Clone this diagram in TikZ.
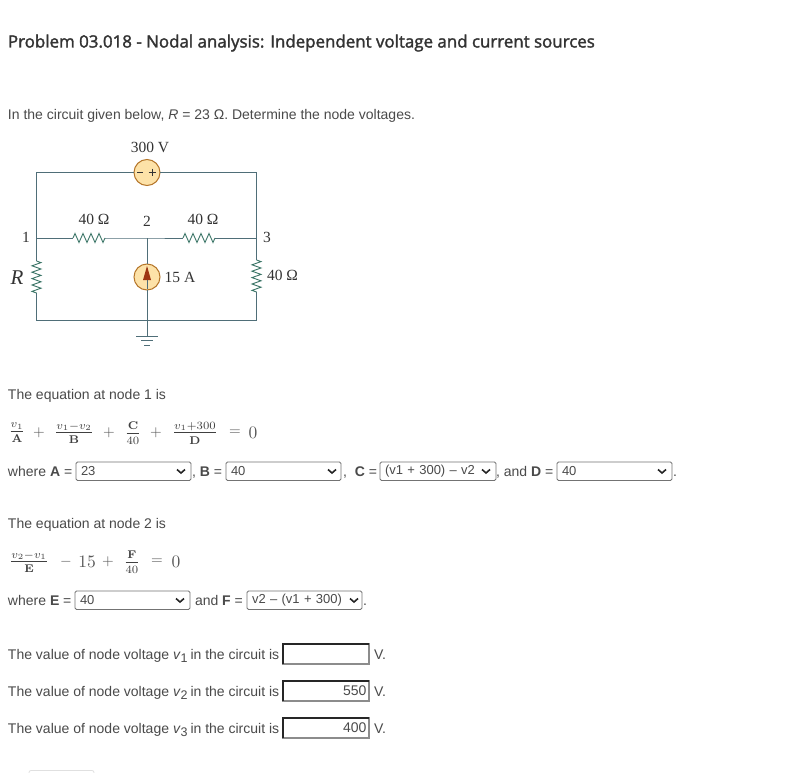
\documentclass[tikz,border=0pt]{standalone}
\usepackage[no-math]{fontspec}
\setmainfont{Liberation Sans}
\newfontfamily\serifcirc{Liberation Serif}
\newfontfamily\titlefont[FakeBold=1.8]{Open Sans}
\usetikzlibrary{decorations.pathmorphing,arrows.meta}
\definecolor{txt}{HTML}{4A4A4A}
\definecolor{wire}{HTML}{4F6E78}
\definecolor{res}{HTML}{3A7466}
\definecolor{srcfill}{HTML}{FDE2A8}
\definecolor{srcedge}{HTML}{B5762A}
\newcommand{\chev}[2]{\draw[line width=1.6pt,black!85] (#1-4,#2-1.5) -- (#1,#2+2) -- (#1+4,#2-1.5);}
\newcommand{\fr}[2]{\frac{\rule[-1.6pt]{0pt}{0pt}#1}{\rule{0pt}{6.5pt}#2}}
\tikzset{
  x=1pt,y=-1pt,
  every node/.style={inner sep=0pt,outer sep=0pt},
  body/.style={anchor=base west,font=\fontsize{14}{14}\selectfont,text=txt},
  ctext/.style={anchor=base,font=\serifcirc\fontsize{15.5}{15.5}\selectfont,text=black!80},
  eq/.style={anchor=center,scale=1.5,text=black!65},
  eqnum/.style={anchor=center,scale=1.75,text=black!65},
  eqfrac/.style={anchor=center,scale=1.6,text=black!75},
  wirepath/.style={draw=wire,line width=1pt},
  hres/.style={draw=res,line width=0.9pt,decorate,decoration={zigzag,segment length=8pt,amplitude=4.5pt}},
  vres/.style={draw=res,line width=0.9pt,decorate,decoration={zigzag,segment length=6.4pt,amplitude=4.5pt}},
  source/.style={circle,draw=srcedge,fill=srcfill,line width=1pt,minimum size=26pt},
  selectbox/.style={draw=black!55,fill=white,rounded corners=1.5pt,line width=0.8pt,anchor=north west,minimum height=18.5pt,inner xsep=5pt,text=txt,font=\fontsize{13}{13}\selectfont,align=left},
  valbox/.style={draw=black!45,fill=white,line width=1.4pt,anchor=north west,minimum width=86pt,minimum height=20pt,text=txt,font=\fontsize{14}{14}\selectfont},
  edgetl/.style={draw=black!85,line width=1.4pt}
}
\newcommand{\nv}[1]{\textit{v}\raisebox{-3pt}{\fontsize{12.5}{13}\selectfont #1}\hspace{-1pt}}
\begin{document}
\begin{tikzpicture}
\useasboundingbox (0,0) rectangle (793,773);
\fill[white] (0,0) rectangle (793,773);
% Heading
\node[anchor=base west,text=black!80] (title) at (8,47.5) {\titlefont\fontsize{16.9}{17}\selectfont Problem 03.018 - Nodal analysis: Independent voltage and current sources};
\node[body] (intro) at (8,120) {In the circuit given below, \textit{R} = 23 Ω. Determine the node voltages.};
% Circuit nodes
\coordinate (tl) at (36.5,172.5);
\coordinate (tr) at (256.5,172.5);
\coordinate (n1) at (36.5,238);
\coordinate (n2) at (147,238);
\coordinate (n3) at (256.5,238);
\coordinate (bl) at (36.5,320.5);
\coordinate (bm) at (147,320.5);
\coordinate (br) at (256.5,320.5);
\coordinate (gnd) at (147,336);
\coordinate (r1a) at (73,238);
\coordinate (r1b) at (105,238);
\coordinate (r2a) at (183,238);
\coordinate (r2b) at (215,238);
\coordinate (r3a) at (36.5,261);
\coordinate (r3b) at (36.5,293);
\coordinate (r4a) at (256.5,260);
\coordinate (r4b) at (256.5,292);
\node[source] (vs) at (147,172.5) {};
\node[source] (is) at (147,277) {};
\draw[wirepath] (vs) -- (tl) -- (n1) -- (r1a);
\draw[wirepath] (vs) -- (tr) -- (n3) -- (r2b);
\draw[wirepath] (r1b) -- (n2) -- (r2a);
\draw[wirepath] (n2) -- (is);
\draw[wirepath] (is) -- (bm);
\draw[wirepath] (n1) -- (r3a);
\draw[wirepath] (r3b) -- (bl) -- (br) -- (r4b);
\draw[wirepath] (r4a) -- (n3);
\draw[wirepath] (bm) -- (gnd);
\draw[hres] (r1a) -- (r1b);
\draw[hres] (r2a) -- (r2b);
\draw[vres] (r3a) -- (r3b);
\draw[vres] (r4a) -- (r4b);
\draw[wirepath] (136,336) -- (158,336) (141,340.7) -- (153,340.7) (144,345) -- (150,345);
\draw[line width=1pt,black!80] (137,172.5) -- (143,172.5) (148.5,172.5) -- (156,172.5) (152.25,168.7) -- (152.25,176.3);
\draw[line width=1pt,wire] (147,289) -- (147,268);
\fill[srcedge!60!red!75!black] (147,266) -- (151,280) -- (143,280) -- cycle;
\node[ctext] (l300) at (150,153) {300 V};
\node[ctext] (l1) at (26,242.5) {1};
\node[ctext] (l2) at (147,226.5) {2};
\node[ctext] (l3) at (267,242.5) {3};
\node[ctext] (la) at (94,225) {40 Ω};
\node[ctext] (lb) at (203,225) {40 Ω};
\node[ctext] (lc) at (282.5,280) {40 Ω};
\node[ctext] (l15) at (180,282) {15 A};
\node[anchor=base,font=\serifcirc\itshape\fontsize{21}{21}\selectfont,text=black!80] (lr) at (17,284) {R};
% Node 1
\node[body] (node1) at (8,399) {The equation at node 1 is};
\node[eqfrac] (e1) at (17,433) {$\fr{v_1}{\mathbf{A}}$};
\node[eq] (e2) at (39,433) {$+$};
\node[eqfrac] (e3) at (74,433) {$\fr{v_1-v_2}{\mathbf{B}}$};
\node[eq] (e4) at (109,433) {$+$};
\node[eqfrac] (e5) at (133,433) {$\fr{\mathbf{C}}{40}$};
\node[eq] (e6) at (156,433) {$+$};
\node[eqfrac] (e7) at (195,433) {$\fr{v_1+300}{\mathbf{D}}$};
\node[eq] (e8) at (235,433) {$=$};
\node[eqnum] (e9) at (253,432.5) {$0$};
\node[body] (w1) at (8,476) {where \textbf{A} =};
\node[selectbox,text width=105pt] (sa) at (76,462) {23};
\chev{181}{471}
\node[body] (w2) at (192,476) {, \textbf{B} =};
\node[selectbox,text width=105pt] (sb) at (226,462) {40};
\chev{332}{471}
\node[body] (w3) at (343,476) {,\hspace{4pt} \textbf{C} =};
\node[selectbox,text width=106pt] (sc) at (380,462) {(v1 + 300) -- v2};
\chev{486}{471}
\node[body] (w4) at (496,476) {, and \textbf{D} =};
\node[selectbox,text width=105pt] (sd) at (557,462) {40};
\chev{662}{471}
\node[body] (w5) at (673,476) {.};
% Node 2
\node[body] (node2) at (8,528) {The equation at node 2 is};
\node[eqfrac] (f1) at (29,562) {$\fr{v_2-v_1}{\mathbf{E}}$};
\node[eq] (f2) at (66,562) {$-$};
\node[eqnum] (f3) at (87,561.5) {$15$};
\node[eq] (f4) at (108,562) {$+$};
\node[eqfrac] (f5) at (132,562) {$\fr{\mathbf{F}}{40}$};
\node[eq] (f6) at (157,562) {$=$};
\node[eqnum] (f7) at (176,561.5) {$0$};
\node[body] (w6) at (8,605) {where \textbf{E} =};
\node[selectbox,text width=105pt] (se) at (75,591) {40};
\chev{180}{600}
\node[body] (w7) at (195,605) {and \textbf{F} =};
\node[selectbox,text width=105pt] (sf) at (247,591) {v2 -- (v1 + 300)};
\chev{354}{600}
\node[body] (w8) at (363,605) {.};
% Answers
\node[body] (q1) at (8,659) {The value of node voltage \nv{1} in the circuit is};
\node[valbox] (b1) at (283,644) {};
\draw[edgetl] (b1.south west) -- (b1.north west) -- (b1.north east);
\node[body] (u1) at (374,659) {V.};
\node[body] (q2) at (8,696) {The value of node voltage \nv{2} in the circuit is};
\node[valbox,align=right,text width=81pt,minimum width=86pt,inner xsep=2.5pt] (b2) at (283,681) {550};
\draw[edgetl] (b2.south west) -- (b2.north west) -- (b2.north east);
\node[body] (u2) at (374,696) {V.};
\node[body] (q3) at (8,733) {The value of node voltage \nv{3} in the circuit is};
\node[valbox,align=right,text width=81pt,minimum width=86pt,inner xsep=2.5pt] (b3) at (283,718) {400};
\draw[edgetl] (b3.south west) -- (b3.north west) -- (b3.north east);
\node[body] (u3) at (374,733) {V.};
\draw[black!12,line width=0.8pt,rounded corners=2pt] (29,773) -- (29,770.5) -- (94,770.5) -- (94,773);
\end{tikzpicture}
\end{document}
